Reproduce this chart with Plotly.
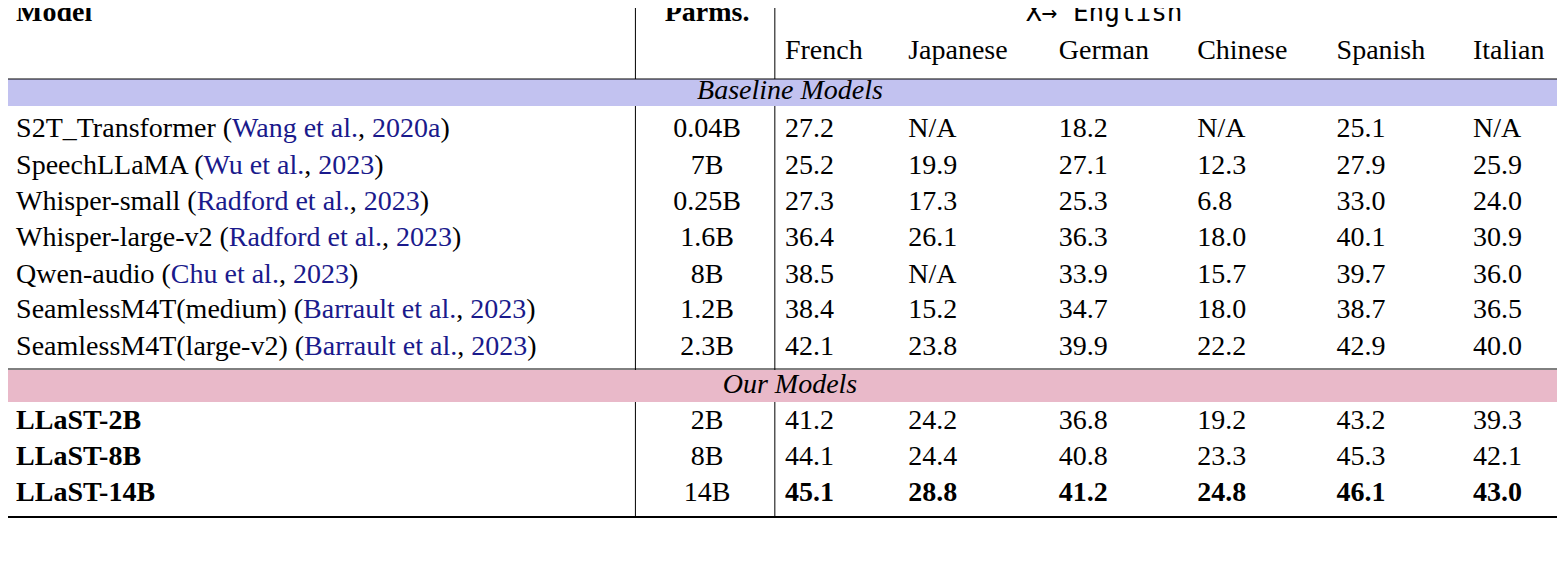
import plotly.graph_objects as go

# --- data ---
languages = ["French", "Japanese", "German", "Chinese", "Spanish", "Italian"]
baseline_models = ["S2T_Transformer", "SpeechLLaMA", "Whisper-small", "Whisper-large-v2",
                   "Qwen-audio", "SeamlessM4T(medium)", "SeamlessM4T(large-v2)"]
baseline_cites = ["Wang et al., 2020a", "Wu et al., 2023", "Radford et al., 2023",
                  "Radford et al., 2023", "Chu et al., 2023", "Barrault et al., 2023",
                  "Barrault et al., 2023"]
baseline_parms = ["0.04B", "7B", "0.25B", "1.6B", "8B", "1.2B", "2.3B"]
baseline_scores = [
    ["27.2", "N/A", "18.2", "N/A", "25.1", "N/A"],
    ["25.2", "19.9", "27.1", "12.3", "27.9", "25.9"],
    ["27.3", "17.3", "25.3", "6.8", "33.0", "24.0"],
    ["36.4", "26.1", "36.3", "18.0", "40.1", "30.9"],
    ["38.5", "N/A", "33.9", "15.7", "39.7", "36.0"],
    ["38.4", "15.2", "34.7", "18.0", "38.7", "36.5"],
    ["42.1", "23.8", "39.9", "22.2", "42.9", "40.0"],
]
our_models = ["LLaST-2B", "LLaST-8B", "LLaST-14B"]
our_parms = ["2B", "8B", "14B"]
our_scores = [
    ["41.2", "24.2", "36.8", "19.2", "43.2", "39.3"],
    ["44.1", "24.4", "40.8", "23.3", "45.3", "42.1"],
    ["45.1", "28.8", "41.2", "24.8", "46.1", "43.0"],
]
best_row = 2

# --- layout (pixel space) ---
W, H = 1565, 561
FONT = "Liberation Serif"
FS = 28
CITE = "#1a1a8c"
x_model, x_parm = 20, 700
x_lang = [781, 903, 1052, 1189, 1327, 1462]
y_base_rows = [130, 167, 203, 239, 276, 311, 348]
y_our_rows = [422, 458, 494]

fig = go.Figure()

def add_text(xs, ys, texts, pos):
    fig.add_trace(go.Scatter(x=xs, y=ys, text=texts, mode="text", textposition=pos,
                             textfont=dict(family=FONT, size=FS, color="black"),
                             hoverinfo="skip", showlegend=False))

# header
add_text([x_model - 4], [14], ["<b>Model</b>"], "middle right")
add_text([x_parm], [14], ["<b>Parms.</b>"], "middle center")
fig.add_trace(go.Scatter(x=[1093], y=[14], text=["X→ English"], mode="text",
                         textfont=dict(family="DejaVu Sans Mono", size=26, color="black"),
                         hoverinfo="skip", showlegend=False))
add_text([x - 4 for x in x_lang], [52] * 6, languages, "middle right")

# baseline rows
labels = [f'{m} (<span style="color:{CITE}">{c.rsplit(", ", 1)[0]}</span>, '
          f'<span style="color:{CITE}">{c.rsplit(", ", 1)[1]}</span>)'
          for m, c in zip(baseline_models, baseline_cites)]
add_text([x_model - 4] * 7, y_base_rows, labels, "middle right")
add_text([x_parm] * 7, y_base_rows, baseline_parms, "middle center")
for j, x in enumerate(x_lang):
    add_text([x - 4] * 7, y_base_rows, [r[j] for r in baseline_scores], "middle right")

# our rows
add_text([x_model - 4] * 3, y_our_rows, [f"<b>{m}</b>" for m in our_models], "middle right")
add_text([x_parm] * 3, y_our_rows, our_parms, "middle center")
for j, x in enumerate(x_lang):
    vals = [f"<b>{r[j]}</b>" if i == best_row else r[j] for i, r in enumerate(our_scores)]
    add_text([x - 4] * 3, y_our_rows, vals, "middle right")

# section bands
shapes = [
    dict(type="line", x0=629, x1=629, y0=0, y1=517, line=dict(color="black", width=1), layer="below"),
    dict(type="line", x0=767, x1=767, y0=0, y1=517, line=dict(color="black", width=1), layer="below"),
    dict(type="rect", x0=0, x1=W, y0=79, y1=106, fillcolor="#c2c2f0", line_width=0, layer="below"),
    dict(type="rect", x0=0, x1=W, y0=370, y1=402, fillcolor="#e9b9c9", line_width=0, layer="below"),
    dict(type="line", x0=0, x1=W, y0=79, y1=79, line=dict(color="black", width=1)),
    dict(type="line", x0=0, x1=W, y0=369, y1=369, line=dict(color="black", width=1)),
    dict(type="line", x0=0, x1=W, y0=517, y1=517, line=dict(color="black", width=2)),
]
fig.update_layout(shapes=shapes)
fig.add_trace(go.Scatter(x=[782, 782], y=[92, 386], mode="text",
                         text=["<i>Baseline Models</i>", "<i>Our Models</i>"],
                         textfont=dict(family=FONT, size=FS, color="black"),
                         hoverinfo="skip", showlegend=False))

fig.update_layout(width=W, height=H, margin=dict(l=0, r=0, t=0, b=0),
                  paper_bgcolor="white", plot_bgcolor="white")
# page body adds an 8px offset; shift the pixel ranges to compensate
fig.update_xaxes(range=[8, W - 8], visible=False)
fig.update_yaxes(range=[H + 8, 8], visible=False)
fig.write_html("out.html")
